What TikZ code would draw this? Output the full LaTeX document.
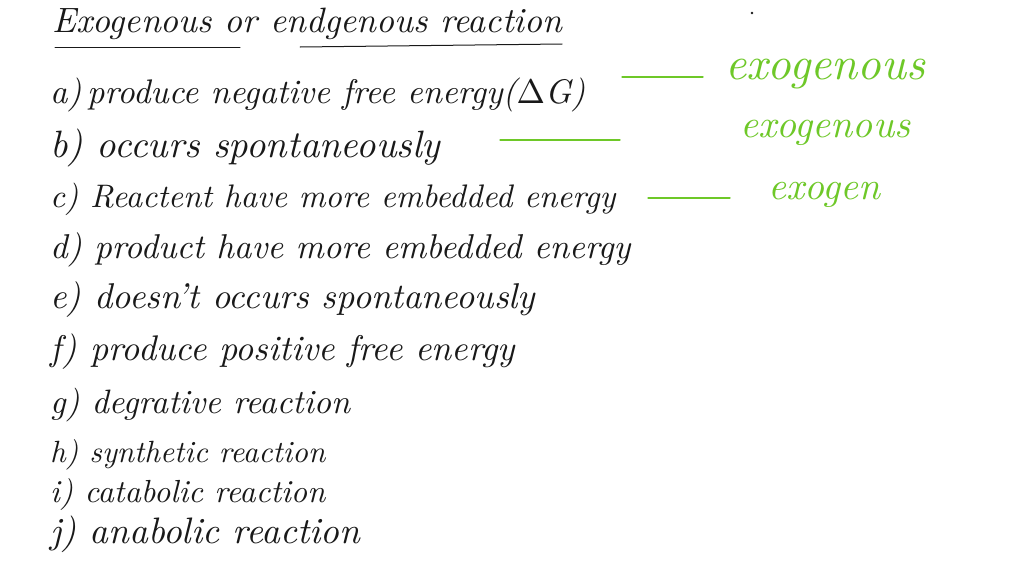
\documentclass[tikz,border=0pt]{standalone}
\usepackage{graphicx}
\definecolor{hand}{RGB}{25,25,25}
\definecolor{gr}{RGB}{110,200,40}
\newcommand\fitw[2]{\resizebox{#1pt}{!}{\strut #2}}
\begin{document}
\begin{tikzpicture}[x=1pt,y=-1pt,
  txt/.style={anchor=west,inner sep=0pt,text=hand,font=\itshape},
  gtxt/.style={anchor=west,inner sep=0pt,text=gr,font=\itshape},
  gline/.style={draw=gr,line width=1.3pt,line cap=round},
  uline/.style={draw=hand,line width=1pt,line cap=round}]
\useasboundingbox[fill=white] (0,0) rectangle (1024,576);
\node[txt] (t) at (52,24) {\fitw{510}{Exogenous or endgenous reaction}};
\coordinate (u1) at (55,47); \coordinate (u2) at (240,47);
\coordinate (u3) at (300,47); \coordinate (u4) at (562,44);
\draw[uline] (u1) -- (u2);
\draw[uline] (u3) -- (u4);
\node[txt] (a) at (50,95) {\fitw{535}{a)\,produce negative free energy($\Delta$G)}};
\node[txt] (b) at (50,148) {\fitw{390}{b) occurs spontaneously}};
\node[txt] (c) at (50,200) {\fitw{565}{c) Reactent have more embedded energy}};
\node[txt] (d) at (50,250) {\fitw{580}{d) product have more embedded energy}};
\node[txt] (e) at (50,300) {\fitw{485}{e) doesn't occurs spontaneously}};
\node[txt] (f) at (50,352) {\fitw{465}{f) produce positive free energy}};
\node[txt] (g) at (50,405) {\fitw{300}{g) degrative reaction}};
\node[txt] (h) at (50,455) {\fitw{275}{h) synthetic reaction}};
\node[txt] (i) at (50,495) {\fitw{275}{i) catabolic reaction}};
\node[txt] (j) at (50,535) {\fitw{310}{j) anabolic reaction}};
\coordinate (a1) at (622,77); \coordinate (a2) at (703,77);
\coordinate (b1) at (500,140); \coordinate (b2) at (620,140);
\coordinate (c1) at (648,198); \coordinate (c2) at (730,198);
\draw[gline] (a1) -- (a2);
\draw[gline] (b1) -- (b2);
\draw[gline] (c1) -- (c2);
\node[gtxt] (ga) at (725,68) {\fitw{200}{exogenous}};
\node[gtxt] (gb) at (740,128) {\fitw{170}{exogenous}};
\node[gtxt] (gc) at (768,190) {\fitw{112}{exogen}};
\fill[hand] (752,13) circle (1.3);
\end{tikzpicture}
\end{document}
